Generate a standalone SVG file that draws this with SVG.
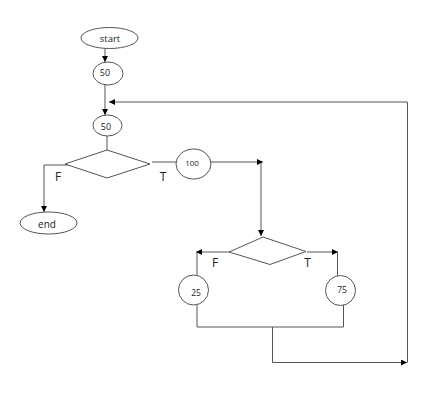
<svg xmlns="http://www.w3.org/2000/svg" width="447" height="401" viewBox="0 0 447 401">
<style>
.s{fill:#fff;stroke:#555;stroke-width:1}
.c{fill:none;stroke:#555;stroke-width:1}
.t{font-family:"Open Sans","DejaVu Sans",sans-serif;fill:#222;text-anchor:middle;dominant-baseline:central}
.l{font-family:"Open Sans","DejaVu Sans",sans-serif;fill:#222;font-size:12px;text-anchor:middle;dominant-baseline:central}
</style>
<defs>
<marker id="a" viewBox="0 0 10 10" refX="10" refY="5" markerWidth="6" markerHeight="6" markerUnits="userSpaceOnUse" orient="auto">
<path d="M0,0 L10,5 L0,10 z" fill="#000"/>
</marker>
</defs>
<rect width="447" height="401" fill="#fff"/>
<g id="connectors">
<line class="c" x1="105" y1="49" x2="105" y2="62" marker-end="url(#a)"/>
<line class="c" x1="105" y1="85" x2="105" y2="115" marker-end="url(#a)"/>
<line class="c" x1="107" y1="136" x2="107" y2="150"/>
<polyline class="c" points="407,102 109,102" marker-end="url(#a)"/>
<polyline class="c" points="68,165 44,165 44,212" marker-end="url(#a)"/>
<line class="c" x1="152" y1="162" x2="176" y2="162"/>
<line class="c" x1="211" y1="162" x2="263" y2="162" marker-end="url(#a)"/>
<line class="c" x1="261" y1="163" x2="261" y2="236" marker-end="url(#a)"/>
<line class="c" x1="229" y1="252" x2="196" y2="252" marker-end="url(#a)"/>
<line class="c" x1="197" y1="252" x2="197" y2="275"/>
<line class="c" x1="307" y1="252" x2="338" y2="252" marker-end="url(#a)"/>
<line class="c" x1="337.5" y1="252" x2="337.5" y2="276"/>
<polyline class="c" points="197,305 197,327 343.5,327 343.5,305"/>
<polyline class="c" points="272.5,327 272.5,362.5 407,362.5" marker-end="url(#a)"/>
<line class="c" x1="407.5" y1="102" x2="407.5" y2="362.5"/>
</g>
<g id="start"><ellipse class="s" cx="109.5" cy="38" rx="28.5" ry="10.5"/><text class="t" x="110" y="38" font-size="9.5">start</text></g>
<g id="n50a"><ellipse class="s" cx="108" cy="73.5" rx="15" ry="11.5"/><text class="t" x="105" y="72.5" font-size="9">50</text></g>
<g id="n50b"><ellipse class="s" cx="107.5" cy="125.5" rx="14.5" ry="10.5"/><text class="t" x="106" y="126" font-size="9">50</text></g>
<g id="d1"><polygon class="s" points="107,150 150,164 107,178 65,164"/>
<text class="l" x="58" y="176">F</text><text class="l" x="163" y="176">T</text></g>
<g id="end"><ellipse class="s" cx="48.5" cy="223" rx="28.5" ry="11"/><text class="t" x="47" y="224" font-size="10">end</text></g>
<g id="n100"><ellipse class="s" cx="193.5" cy="164" rx="17.5" ry="15"/><text class="t" x="192" y="162" font-size="8">100</text></g>
<g id="d2"><polygon class="s" points="263,237 306,251.5 270,264.5 229,252"/>
<text class="l" x="215" y="262.5">F</text><text class="l" x="307.5" y="262.5">T</text></g>
<g id="n25"><ellipse class="s" cx="193.5" cy="290" rx="15" ry="15"/><text class="t" x="196" y="292" font-size="8.5">25</text></g>
<g id="n75"><ellipse class="s" cx="340.5" cy="290.5" rx="15" ry="15"/><text class="t" x="342" y="289" font-size="8.5">75</text></g>
</svg>
